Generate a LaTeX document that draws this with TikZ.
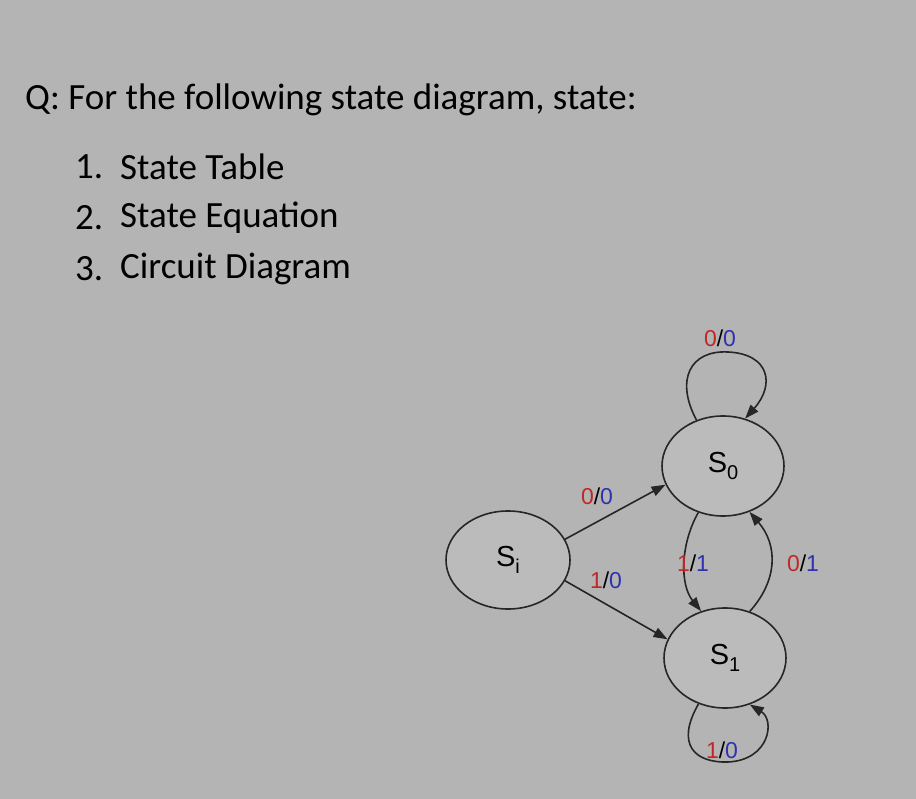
\documentclass[tikz,border=0pt]{standalone}
\usepackage{fontspec}
\setmainfont{Carlito}
\newfontfamily\hel{Liberation Sans}
\usetikzlibrary{arrows.meta,shapes.geometric}
\definecolor{bg}{HTML}{B4B4B4}
\definecolor{stfill}{HTML}{BBBBBB}
\definecolor{rd}{HTML}{C02828}
\definecolor{bl}{HTML}{3030B0}
\begin{document}
\begin{tikzpicture}[x=1pt,y=-1pt,
  st/.style={ellipse,draw=black!85,line width=1.6pt,fill=stfill,minimum width=122pt,minimum height=100pt,inner sep=0pt,font=\hel\fontsize{29}{32}\selectfont},
  tr/.style={draw=black!85,line width=1.6pt,-{Triangle[length=14pt,width=10pt]}},
  lb/.style={font=\hel\fontsize{23}{26}\selectfont,inner sep=1pt},
  txt/.style={anchor=west,inner sep=0pt,font=\fontsize{37}{40}\selectfont}]
\useasboundingbox (0,0) rectangle (916,799);
\fill[bg] (0,0) rectangle (916,799);
\node[txt] (q) at (25,100) {Q: For the following state diagram, state:};
\node[txt] (n1) at (75,167) {1.};
\node[txt] (l1) at (120,167) {State Table};
\node[txt] (n2) at (75,218) {2.};
\node[txt] (l2) at (120,218) {State Equation};
\node[txt] (n3) at (75,269) {3.};
\node[txt] (l3) at (120,269) {Circuit Diagram};
\node[st,minimum width=124pt,minimum height=98pt] (si) at (508,560) {S\raisebox{-7pt}{\fontsize{20}{22}\selectfont i}};
\node[st] (s0) at (723,466) {S\raisebox{-7pt}{\fontsize{20}{22}\selectfont 0}};
\node[st] (s1) at (725,658) {S\raisebox{-7pt}{\fontsize{20}{22}\selectfont 1}};
\draw[tr] (si.20) -- (s0.198);
\draw[tr] (si.-20) -- (s1.162);
\draw[tr] (s0.120) .. controls (675,380) and (690,350) .. (728,352) .. controls (770,354) and (775,385) .. (s0.65);
\draw[tr] (s1.-120) .. controls (675,745) and (695,763) .. (728,762) .. controls (770,760) and (775,720) .. (s1.-62);
\draw[tr] (s0.-118) .. controls (680,545) and (680,585) .. (s1.117);
\draw[tr] (s1.62) .. controls (778,580) and (778,545) .. (s0.-60);
\node[lb] (a) at (720,338) {\textcolor{rd}{0}/\textcolor{bl}{0}};
\node[lb] (b) at (597,496) {\textcolor{rd}{0}/\textcolor{bl}{0}};
\node[lb] (c) at (606,580) {\textcolor{rd}{1}/\textcolor{bl}{0}};
\node[lb] (d) at (693,563) {\textcolor{rd}{1}/\textcolor{bl}{1}};
\node[lb] (e) at (803,563) {\textcolor{rd}{0}/\textcolor{bl}{1}};
\node[lb] (f) at (722,750) {\textcolor{rd}{1}/\textcolor{bl}{0}};
\end{tikzpicture}
\end{document}
